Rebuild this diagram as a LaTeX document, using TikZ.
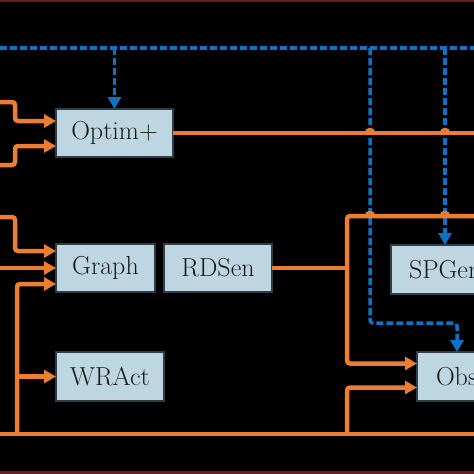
\documentclass[tikz,border=0pt]{standalone}
\usetikzlibrary{
    arrows.meta,
    positioning
}
\definecolor{flowc}{RGB}{237,125,49}
\definecolor{ctrlc}{RGB}{16,114,196}
\definecolor{blockfill}{RGB}{190,214,226}
\definecolor{blockline}{RGB}{45,62,72}
\definecolor{framec}{RGB}{112,28,28}
\tikzset{
    block/.style = {
        draw = blockline,
        line width = 1.5pt,
        fill = blockfill,
        inner sep = 0pt,
        outer sep = 0pt,
        minimum height = 48pt,
        text = black!90,
        font = \fontsize{26}{30}\selectfont
    },
    cutblock/.style = {
        block,
        anchor = north west,
        inner xsep = #1,
        text width = 80pt,
        align = left
    },
    flow/.style = {
        draw = flowc,
        line width = 4.5pt,
        rounded corners = 3pt
    },
    ctrl/.style = {
        draw = ctrlc,
        line width = 3.5pt,
        dash pattern = on 7pt off 3pt,
        rounded corners = 3pt
    },
    hop/.style = {
        draw = flowc,
        line width = 2.5pt
    }
}

\begin{document}
\begin{tikzpicture}[x = 1pt, y = -1pt, > = {Triangle[length = 12pt, width = 13pt]}]
    \useasboundingbox (0,0) rectangle (474,474);
    \fill[black] (0,0) rectangle (474,474);
    \fill[framec] (0,0) rectangle (474,2);
    \fill[framec] (0,471) rectangle (474,474);

    % blocks
    \node[block, minimum width = 117pt, anchor = north west] (optim) at (56,109) {Optim+};
    \node[block, minimum width = 99pt, anchor = north west] (graph) at (56,244) {Graph};
    \node[block, minimum width = 108pt] (rdsen)[right = 9pt of graph] {RDSen};
    \node[block, minimum width = 108pt, minimum height = 49pt, anchor = north west] (wract) at (56,352) {WRAct};
    \node[cutblock = 18pt, minimum height = 49pt] (spgen) at (391,245) {SPGen};
    \node[cutblock = 19pt, minimum height = 49pt] (obs) at (417,352) {Obs};

    % free ends
    \coordinate (in1) at (0,102);
    \coordinate (in2) at (0,165);
    \coordinate (in3) at (0,217);
    \coordinate (in4) at (0,268);
    \coordinate (busl) at (0,434);
    \coordinate (busr) at (474,434);
    \coordinate (tapl) at (17,434);
    \coordinate (tapr) at (347,434);
    \coordinate (outa) at (474,133);
    \coordinate (outb) at (474,216);
    \coordinate (split) at (347,216);
    \coordinate (ctl) at (0,48);
    \coordinate (ctr) at (474,48);
    \coordinate (dropa) at (370,48);
    \coordinate (dropb) at (445,48);
    \coordinate (bend) at (457,323);

    % control lines
    \draw[ctrl] (ctl) -- (ctr);
    \draw[ctrl, ->] (optim.north |- ctl) -- (optim.north);
    \draw[ctrl, ->] (dropb) -- (dropb |- spgen.north);
    \draw[ctrl, ->] (dropa) |- (bend) -- (bend |- obs.north);

    % data lines
    \draw[flow, ->] (in1) -| ++(15,19) -- ([yshift = 12pt]optim.west);
    \draw[flow, ->] (in2) -| ++(15,-19) -- ([yshift = -13pt]optim.west);
    \draw[flow, ->] (in3) -| ++(15,34) -- ([yshift = 17pt]graph.west);
    \draw[flow, ->] (in4) -- (graph.west);
    \draw[flow] (busl) -- (busr);
    \draw[flow, ->] (tapl) |- ([yshift = -16pt]graph.west);
    \draw[flow, ->] (tapl |- wract.west) -- (wract.west);
    \draw[flow] (optim.east) -- (outa);
    \draw[flow] (rdsen.east) -- (rdsen.east -| split);
    \draw[flow, ->] (outb) -- (split) |- ([yshift = 13pt]obs.west);
    \draw[flow, ->] (tapr) |- ([yshift = -11pt]obs.west);

    % hops over the control lines
    \foreach \x in {370, 445}
        \foreach \y in {133, 216}
            \draw[hop] (\x-4,\y) arc[start angle = 180, end angle = 0, radius = 4pt];
\end{tikzpicture}
\end{document}
